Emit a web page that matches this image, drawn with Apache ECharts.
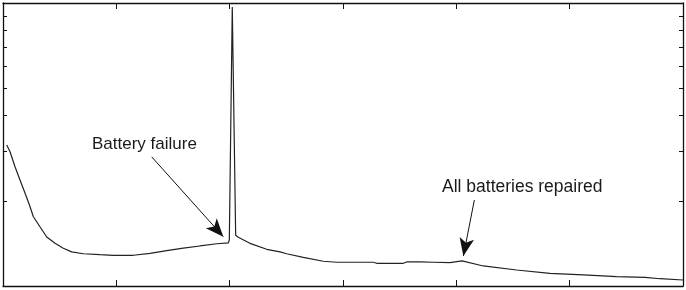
<!DOCTYPE html>
<html><head><meta charset="utf-8">
<script src="https://cdn.jsdelivr.net/npm/echarts@6/dist/echarts.min.js"></script>
<style>html,body{margin:0;padding:0;background:#fff}#c{width:686px;height:290px}</style>
</head><body><div id="c"></div>
<script>
// time axis (arbitrary units, 0..6) and signal values (log scale 1..10)
const timeValues = [0.033,0.062,0.106,0.150,0.194,0.238,0.267,0.326,0.386,0.459,0.532,0.606,0.709,0.856,0.973,1.150,1.297,1.444,1.591,1.738,1.886,1.988,1.997,2.023,2.053,2.076,2.179,2.327,2.444,2.503,2.650,2.826,2.944,3.268,3.297,3.532,3.562,3.679,3.797,3.944,4.050,4.238,4.532,4.826,5.121,5.415,5.665,5.797,6.000];
const signalValues = [3.15,2.98,2.64,2.37,2.13,1.91,1.76,1.62,1.49,1.415,1.36,1.32,1.30,1.29,1.284,1.284,1.305,1.333,1.36,1.385,1.41,1.42,1.454,9.68,1.51,1.486,1.415,1.348,1.32,1.30,1.263,1.223,1.213,1.213,1.203,1.203,1.216,1.216,1.213,1.209,1.226,1.177,1.139,1.109,1.094,1.080,1.073,1.061,1.050];
const xTickValues = [1,2,3,4,5];
const yTickValues = [2,3,4,5,6,7,8,9];
const annotationTexts = ['Battery failure','All batteries repaired'];
const batteryArrow = [[1.312,2.86],[1.944,1.494]];
const repairArrow = [[4.159,2.013],[4.062,1.276]];

const seriesData = timeValues.map((t,i)=>[t, signalValues[i]]);
const logTicks = yTickValues.map(v=>Math.log10(v));
const axisColor = '#111';
function xAx(pos){return {type:'value',min:0,max:6,interval:1,position:pos,
  axisLine:{show:true,onZero:false,lineStyle:{color:axisColor,width:1.3}},
  axisTick:{show:true,inside:true,length:6,customValues:xTickValues,lineStyle:{color:axisColor,width:1}},
  axisLabel:{show:false},splitLine:{show:false}};}
function yAx(pos){return {type:'value',min:0,max:1,position:pos,
  axisLine:{show:true,onZero:false,lineStyle:{color:axisColor,width:1.3}},
  axisTick:{show:true,inside:true,length:4,customValues:logTicks,lineStyle:{color:axisColor,width:1}},
  axisLabel:{show:false},splitLine:{show:false}};}

const chart = echarts.init(document.getElementById('c'),null,{renderer:'canvas'});
chart.setOption({
  animation:false,
  backgroundColor:'#fff',
  grid:{left:3,right:3,top:3,bottom:4,containLabel:false},
  xAxis:[xAx('bottom'),xAx('top')],
  yAxis:[{type:'log',logBase:10,min:1,max:10,show:false,axisLine:{onZero:false},splitLine:{show:false}},yAx('left'),yAx('right')],
  series:[{
    type:'line',xAxisIndex:0,yAxisIndex:0,data:seriesData,showSymbol:false,symbol:'none',
    lineStyle:{color:'#222',width:1.2},
    markLine:{silent:true,symbol:['none','arrow'],symbolSize:[11,18],label:{show:false},
      lineStyle:{color:'#111',width:1,type:'solid'},
      data:[
        [{coord:batteryArrow[0]},{coord:batteryArrow[1]}],
        [{coord:repairArrow[0]},{coord:repairArrow[1]}]
      ]}
  }],
  graphic:[
    {type:'text',left:92,top:136,style:{text:annotationTexts[0],font:'17px "Liberation Sans", Arial, sans-serif',fill:'#1a1a1a'}},
    {type:'text',left:442,top:178,style:{text:annotationTexts[1],font:'17.5px "Liberation Sans", Arial, sans-serif',fill:'#1a1a1a'}}
  ]
});
</script></body></html>
